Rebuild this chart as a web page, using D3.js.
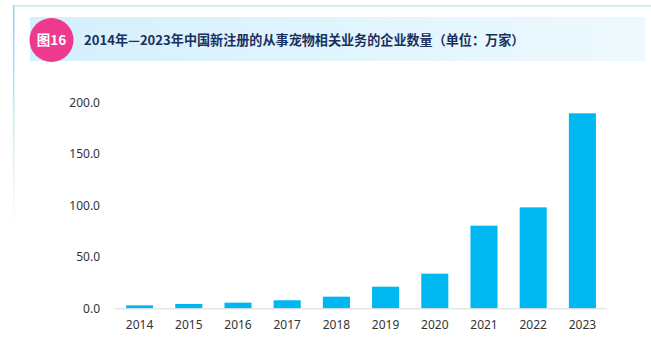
<!DOCTYPE html>
<html><head><meta charset="utf-8">
<script src="https://cdn.jsdelivr.net/npm/d3@7"></script>
<style>body{margin:0;background:#fff;}svg{display:block;font-family:"Noto Sans CJK SC","Noto Sans",sans-serif;}</style>
</head><body>
<svg id="c" width="651" height="355"></svg>
<script>
const years = ["2014","2015","2016","2017","2018","2019","2020","2021","2022","2023"];
const counts = [2.9, 4.2, 5.5, 7.8, 11.3, 21.0, 33.7, 80.4, 98.2, 189.7];
const yTicks = [0, 50, 100, 150, 200];
const titleText = "2014年—2023年中国新注册的从事宠物相关业务的企业数量（单位：万家）";
const badgeText = "图16";

const svg = d3.select("#c");
const defs = svg.append("defs");
const g1 = defs.append("linearGradient").attr("id","hdr").attr("x1","0").attr("x2","1");
g1.append("stop").attr("offset","0").attr("stop-color","#d3f0fc");
g1.append("stop").attr("offset","1").attr("stop-color","#eef9fe");
const g2 = defs.append("linearGradient").attr("id","vl").attr("x1","0").attr("x2","0").attr("y1","0").attr("y2","1");
g2.append("stop").attr("offset","0").attr("stop-color","#8fd3ea");
g2.append("stop").attr("offset","1").attr("stop-color","#8fd3ea").attr("stop-opacity","0");

// frame lines
svg.append("rect").attr("x",13).attr("y",5).attr("width",638).attr("height",1.5).attr("fill","#c4e9f5");
svg.append("rect").attr("x",13).attr("y",5).attr("width",1.5).attr("height",225).attr("fill","url(#vl)");

// header band
svg.append("rect").attr("x",30).attr("y",17).attr("width",615).attr("height",44).attr("fill","url(#hdr)");
svg.append("circle").attr("cx",51.5).attr("cy",40).attr("r",22).attr("fill","#ee3a8e");
svg.append("text").attr("x",51.5).attr("y",45).attr("text-anchor","middle").attr("fill","#fff")
  .attr("font-size",13.5).attr("font-weight","bold").text(badgeText);
svg.append("text").attr("x",84).attr("y",45).attr("fill","#1b2f5e")
  .attr("font-size",13.1).attr("font-weight","bold").text(titleText);

const x = d3.scaleBand().domain(years).range([115,607]).paddingInner(0.45).paddingOuter(0.225);
const y = d3.scaleLinear().domain([0,200]).range([308.3,102.7]);

svg.selectAll("rect.bar").data(years).join("rect").attr("class","bar")
  .attr("x",d=>x(d)).attr("width",x.bandwidth())
  .attr("y",(d,i)=>y(counts[i])).attr("height",(d,i)=>y(0)-y(counts[i]))
  .attr("fill","#00b8f1");

// baseline
svg.append("line").attr("x1",115).attr("x2",607).attr("y1",y(0)+0.5).attr("y2",y(0)+0.5)
  .attr("stroke","#d9d9d9").attr("stroke-width",1);

const yAxis = svg.append("g").attr("transform","translate(103,0)")
  .call(d3.axisLeft(y).tickValues(yTicks).tickFormat(d3.format(".1f")).tickSize(0));
yAxis.select(".domain").remove();
yAxis.selectAll("text").attr("font-size",12).attr("fill","#333").attr("font-family","'Noto Sans','Open Sans',sans-serif").attr("dx",0);

const xAxis = svg.append("g").attr("transform",`translate(0,${y(0)})`)
  .call(d3.axisBottom(x).tickSize(0).tickPadding(12));
xAxis.select(".domain").remove();
xAxis.selectAll("text").attr("font-size",12).attr("fill","#333").attr("font-family","'Noto Sans','Open Sans',sans-serif");
</script>
</body></html>
